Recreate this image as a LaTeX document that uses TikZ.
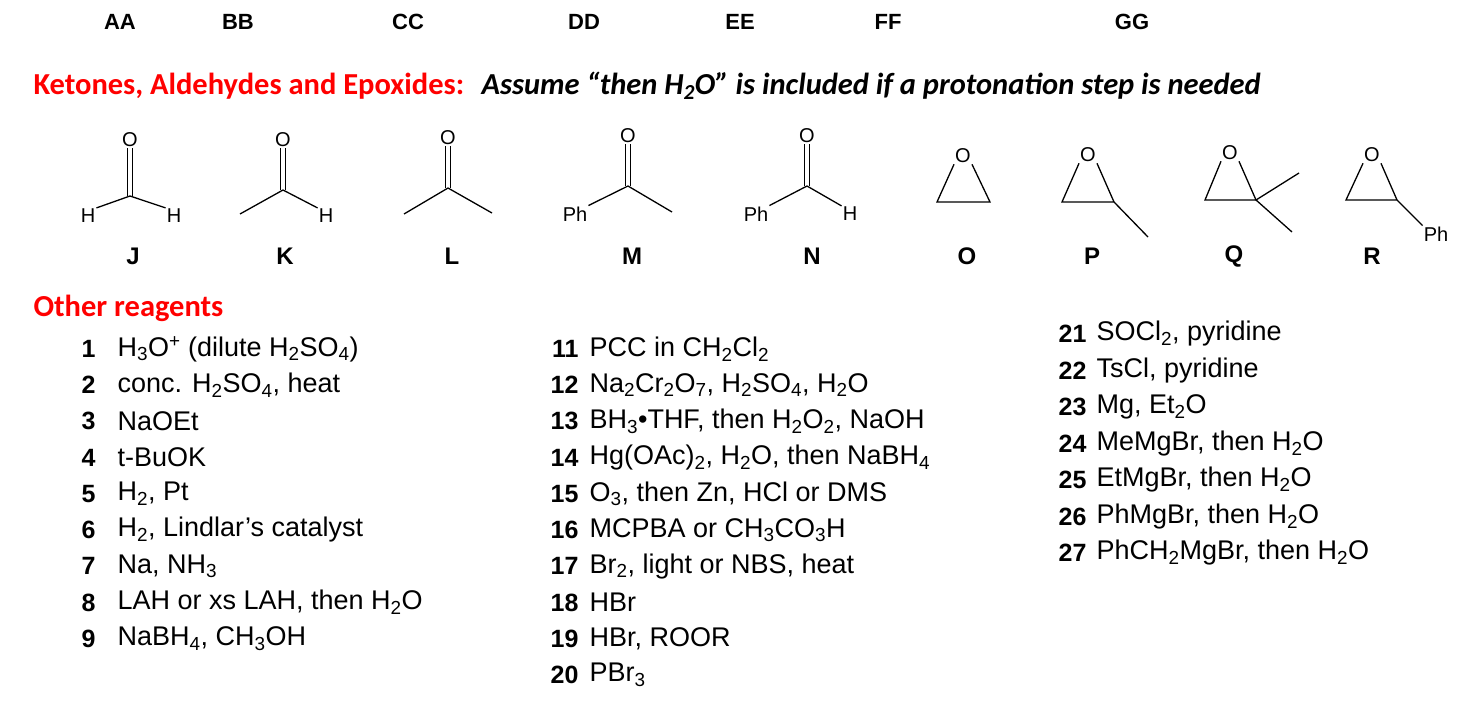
\documentclass[tikz,border=0pt]{standalone}
\usepackage{fontspec}
\setmainfont{Liberation Sans}
\newfontfamily\calfont{Carlito}
\begin{document}
\begin{tikzpicture}[x=1pt,y=-1pt,
 bond/.style={line width=1.3pt},
 atom/.style={font=\fontsize{20}{20}\selectfont,inner sep=1pt},
 lbl/.style={font=\fontsize{24}{24}\selectfont\bfseries},
 top/.style={font=\fontsize{22}{22}\selectfont\bfseries},
 num/.style={font=\fontsize{25}{25}\selectfont\bfseries,anchor=east},
 rg/.style={font=\fontsize{27}{27}\selectfont,anchor=west},
 head/.style={font=\calfont\fontsize{30.5}{30.5}\selectfont\bfseries,text=red,anchor=west}]
\useasboundingbox (0,0) rectangle (1459,726);
% top labels
\foreach \t/\x in {AA/120,BB/238,CC/408,DD/584,EE/740,FF/888,GG/1132}
  \node[top] (t\t) at (\x,22) {\t};
\node[head] (h1) at (30,86) {Ketones, Aldehydes and Epoxides:};
\node[head,text=black,anchor=west] (h2) at (478,86) {\itshape Assume “then H\textsubscript{2}O” is included if a protonation step is needed};
% J
\node[atom] (jO) at (130,140) {O};
\coordinate (jC) at (130,196);
\node[atom] (jH1) at (88,216) {H};
\node[atom] (jH2) at (174,216) {H};
\draw[bond] ([xshift=-2.2pt]jO.south) -- ([xshift=-2.2pt]jC) ([xshift=2.2pt]jO.south) -- ([xshift=2.2pt]jC);
\draw[bond] (jH1.north east) -- (jC) -- (jH2.north west);
% K
\node[atom] (kO) at (283,140) {O};
\coordinate (kC) at (283,190);
\coordinate (kM) at (240,214);
\node[atom] (kH) at (326,216) {H};
\draw[bond] ([xshift=-2.2pt]kO.south) -- ([xshift=-2.2pt]kC) ([xshift=2.2pt]kO.south) -- ([xshift=2.2pt]kC);
\draw[bond] (kM) -- (kC) -- (kH.north west);
% L
\node[atom] (lO) at (448,138) {O};
\coordinate (lC) at (448,188);
\coordinate (lM1) at (404,214);
\coordinate (lM2) at (492,213);
\draw[bond] ([xshift=-2.2pt]lO.south) -- ([xshift=-2.2pt]lC) ([xshift=2.2pt]lO.south) -- ([xshift=2.2pt]lC);
\draw[bond] (lM1) -- (lC) -- (lM2);
% M
\node[atom] (mO) at (628,136) {O};
\coordinate (mC) at (628,186);
\node[atom] (mPh) at (575,214) {Ph};
\coordinate (mM) at (672,212);
\draw[bond] ([xshift=-2.2pt]mO.south) -- ([xshift=-2.2pt]mC) ([xshift=2.2pt]mO.south) -- ([xshift=2.2pt]mC);
\draw[bond] (mPh.north east) -- (mC) -- (mM);
% N
\node[atom] (nO) at (807,136) {O};
\coordinate (nC) at (807,186);
\node[atom] (nPh) at (756,214) {Ph};
\node[atom] (nH) at (850,214) {H};
\draw[bond] ([xshift=-2.2pt]nO.south) -- ([xshift=-2.2pt]nC) ([xshift=2.2pt]nO.south) -- ([xshift=2.2pt]nC);
\draw[bond] (nPh.north east) -- (nC) -- (nH.north west);
% O epoxide
\node[atom] (oO) at (963,156) {O};
\coordinate (oA) at (937,202); \coordinate (oB) at (990,202);
\draw[bond] (oO.south west) -- (oA) -- (oB) -- (oO.south east);
% P
\node[atom] (pO) at (1088,155) {O};
\coordinate (pA) at (1062,202); \coordinate (pB) at (1114,202); \coordinate (pM) at (1148,237);
\draw[bond] (pO.south west) -- (pA) -- (pB) -- (pO.south east);
\draw[bond] (pB) -- (pM);
% Q
\node[atom] (qO) at (1230,153) {O};
\coordinate (qA) at (1205,200); \coordinate (qB) at (1256,200);
\coordinate (qM1) at (1299,173); \coordinate (qM2) at (1292,232);
\draw[bond] (qO.south west) -- (qA) -- (qB) -- (qO.south east);
\draw[bond] (qM1) -- (qB) -- (qM2);
% R
\node[atom] (rO) at (1372,155) {O};
\coordinate (rA) at (1346,200); \coordinate (rB) at (1397,200);
\node[atom] (rPh) at (1436,234) {Ph};
\draw[bond] (rO.south west) -- (rA) -- (rB) -- (rO.south east);
\draw[bond] (rB) -- (rPh.north west);
% labels
\foreach \t/\x in {J/133,K/285,L/452,M/632,N/812,O/967,P/1092,Q/1234,R/1372}
  \node[lbl] (L\t) at (\x,256) {\t};
\node[head] (h3) at (30,308) {Other reagents};
% column 1
\foreach \n/\t [count=\i from 0] in {
 1/{H\textsubscript{3}O\textsuperscript{+} (dilute H\textsubscript{2}SO\textsubscript{4})},
 2/{conc. H\textsubscript{2}SO\textsubscript{4}, heat},
 3/{NaOEt},
 4/{t-BuOK},
 5/{H\textsubscript{2}, Pt},
 6/{H\textsubscript{2}, Lindlar's catalyst},
 7/{Na, NH\textsubscript{3}},
 8/{LAH or xs LAH, then H\textsubscript{2}O},
 9/{NaBH\textsubscript{4}, CH\textsubscript{3}OH}}{
 \node[num] (n\n) at (99,349+36.2*\i) {\n};
 \node[rg] (r\n) at (114,349+36.2*\i) {\t};}
% column 2
\foreach \n/\t [count=\i from 0] in {
 11/{PCC in CH\textsubscript{2}Cl\textsubscript{2}},
 12/{Na\textsubscript{2}Cr\textsubscript{2}O\textsubscript{7}, H\textsubscript{2}SO\textsubscript{4}, H\textsubscript{2}O},
 13/{BH\textsubscript{3}\textbullet THF, then H\textsubscript{2}O\textsubscript{2}, NaOH},
 14/{Hg(OAc)\textsubscript{2}, H\textsubscript{2}O, then NaBH\textsubscript{4}},
 15/{O\textsubscript{3}, then Zn, HCl or DMS},
 16/{MCPBA or CH\textsubscript{3}CO\textsubscript{3}H},
 17/{Br\textsubscript{2}, light or NBS, heat},
 18/{HBr},
 19/{HBr, ROOR},
 20/{PBr\textsubscript{3}}}{
 \node[num] (n\n) at (582,349+36.2*\i) {\n};
 \node[rg] (r\n) at (586,349+36.2*\i) {\t};}
% column 3
\foreach \n/\t [count=\i from 0] in {
 21/{SOCl\textsubscript{2}, pyridine},
 22/{TsCl, pyridine},
 23/{Mg, Et\textsubscript{2}O},
 24/{MeMgBr, then H\textsubscript{2}O},
 25/{EtMgBr, then H\textsubscript{2}O},
 26/{PhMgBr, then H\textsubscript{2}O},
 27/{PhCH\textsubscript{2}MgBr, then H\textsubscript{2}O}}{
 \node[num] (n\n) at (1090,334+36.5*\i) {\n};
 \node[rg] (r\n) at (1093,334+36.5*\i) {\t};}
\end{tikzpicture}
\end{document}
